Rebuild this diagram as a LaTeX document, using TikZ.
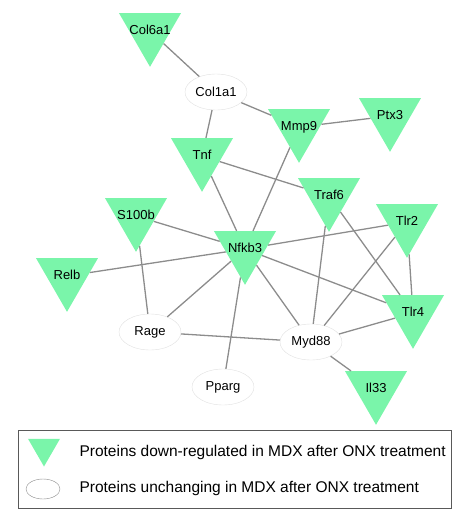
\documentclass[tikz,border=0pt]{standalone}
\usepackage{fontspec}
\setmainfont{Liberation Sans}
\usetikzlibrary{shapes.geometric}
\definecolor{MDXsmanjen}{HTML}{7AF5AA}
\colorlet{MDXveza}{black!45}

\begin{document}
\begin{tikzpicture}[x=1pt,y=-1pt,font=\fontsize{13}{14}\selectfont,
 dol/.style={regular polygon,regular polygon sides=3,shape border rotate=180,fill=MDXsmanjen,minimum size=71.6pt,inner sep=0pt},
 ist/.style={ellipse,draw=black!12,fill=white,minimum width=62pt,minimum height=36pt,inner sep=0pt},
 veza/.style={draw=MDXveza,line width=1.3pt}]
\useasboundingbox (0,0) rectangle (474,530);
% down-regulated
\foreach \x/\y/\ime in {150/31/Col6a1,299/127/Mmp9,390/116/Ptx3,202/156/Tnf,329/196/Traf6,136/216/S100b,
 407/222/Tlr2,245/249/Nfkb3,67/276/Relb,413/313/Tlr4,376/389/Il33}{
 \node[dol] (\ime) at (\x,\y) {\makebox[0pt]{\raisebox{2pt}{\ime}}};
}
% unchanging
\foreach \x/\y/\ime in {216/92/Col1a1,150/332/Rage,311/342/Myd88,223/387/Pparg}{
 \node[ist] (\ime) at (\x,\y) {\ime};
}
\foreach \a/\b in {Col6a1/Col1a1,Col1a1/Tnf,Col1a1/Mmp9,Mmp9/Ptx3,Mmp9/Nfkb3,Tnf/Nfkb3,Tnf/Traf6,Traf6/Tlr4,
 Traf6/Myd88,S100b/Nfkb3,S100b/Rage,Relb/Nfkb3,Nfkb3/Tlr2,Nfkb3/Tlr4,Nfkb3/Rage,Nfkb3/Myd88,Nfkb3/Pparg,
 Tlr2/Myd88,Tlr2/Tlr4,Tlr4/Myd88,Rage/Myd88,Myd88/Il33}{
 \draw[veza] (\a)--(\b);
}
% legend
\draw[black!65,line width=1pt] (18,430) rectangle (451,508);
\node[dol,minimum size=37pt] (legdol) at (44,448) {};
\node[ist,draw=black!45,minimum width=34pt,minimum height=20pt] (legist) at (43,489) {};
\node[anchor=west,font=\fontsize{15.5}{17}\selectfont] (legdoltxt) at (76,452) {Proteins down-regulated in MDX after ONX treatment};
\node[anchor=west,font=\fontsize{15.5}{17}\selectfont] (legisttxt) at (76,488) {Proteins unchanging in MDX after ONX treatment};
\end{tikzpicture}
\end{document}
